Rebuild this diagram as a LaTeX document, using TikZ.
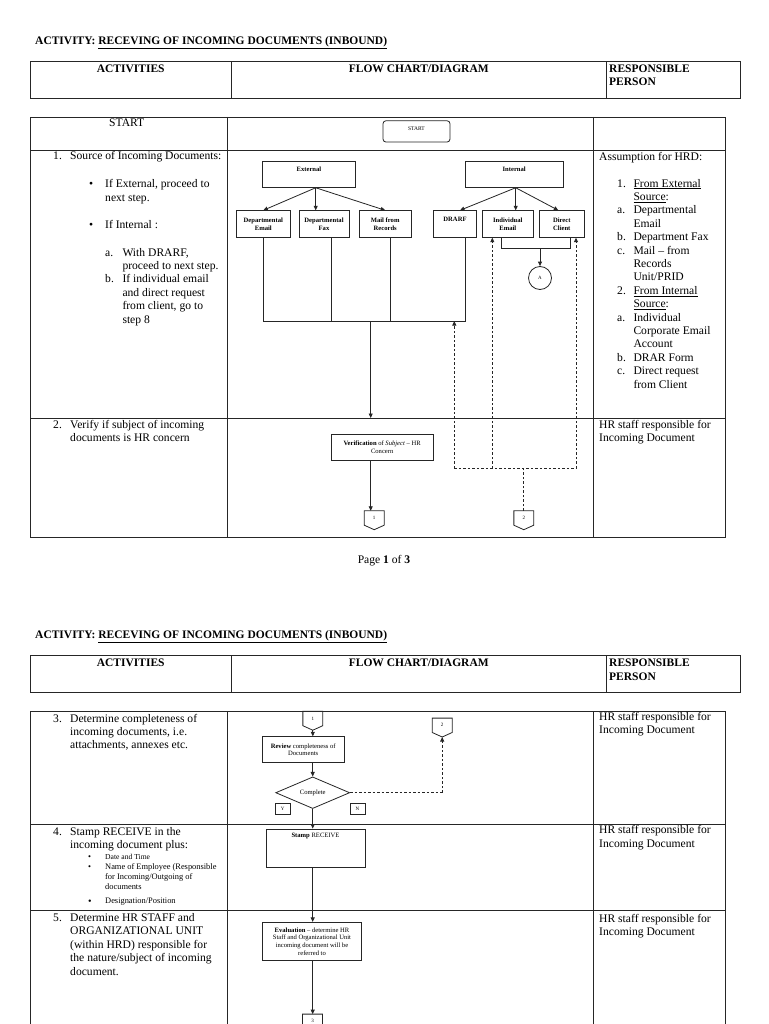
\documentclass[tikz,border=0pt]{standalone}
\usepackage{fontspec}
\setmainfont{Liberation Serif}
\usetikzlibrary{arrows.meta,shapes.geometric,calc}
\newcommand\myul[1]{\underline{#1}}
\newcommand\txtlines[6]{\foreach \t [count=\i from 0] in {#6}{\node[#1] (#5\i) at (#2,{#3+#4*\i}) {\t};}}
\newcommand\offpage[4]{%
  \node[opage] (#1) at (#2,#3+7) {#4};
  \coordinate (#1p) at ($(#1.south)+(0,4.5)$);
  \draw[boxline] (#1.north west) -- (#1.north east) -- (#1.south east) -- (#1p) -- (#1.south west) -- cycle;}
\begin{document}
\begin{tikzpicture}[x=1pt,y=-1pt,
  tab/.style={line width=0.9pt, draw=black!85},
  boxline/.style={line width=0.8pt, draw=black!85},
  body/.style={font=\fontsize{11.6}{13.4}\selectfont, inner sep=0pt, anchor=base west},
  hdr/.style={font=\bfseries\fontsize{11.5}{13}\selectfont, inner sep=0pt, anchor=base},
  smalltxt/.style={font=\fontsize{8.4}{10}\selectfont, inner sep=0pt, anchor=base west},
  fbox/.style={draw=black!85, line width=0.8pt, inner sep=0pt, align=center, font=\fontsize{6.6}{7.7}\selectfont},
  bbox/.style={fbox, font=\bfseries\fontsize{6.6}{8.3}\selectfont},
  lift/.style={text height=5pt, text depth=#1},
  flow/.style={draw=black!85, line width=0.8pt, -{Triangle[length=4.5pt,width=4pt]}},
  dflow/.style={flow, dash pattern=on 2.5pt off 2pt},
  link/.style={draw=black!85, line width=0.8pt},
  dlink/.style={link, dash pattern=on 2.5pt off 2pt},
  opage/.style={minimum width=19.5pt, minimum height=14pt, inner sep=0pt, font=\fontsize{5}{6}\selectfont},
]
\useasboundingbox (0,0) rectangle (768,1024);
\fill[white] (0,0) rectangle (768,1024);
\clip (0,0) rectangle (768,1024);

% ---------------- PAGE 1 ----------------
\node[anchor=base west, inner sep=0pt, font=\bfseries\fontsize{11.5}{13}\selectfont] (t1) at (35,44.8) {ACTIVITY: \myul{RECEVING OF INCOMING DOCUMENTS (INBOUND)}};
\draw[tab] (30,61.5) rectangle (740,98.5);
\draw[tab] (231.5,61.5) -- (231.5,98.5) (606,61.5) -- (606,98.5);
\node[hdr] (h1a) at (130.75,72.8) {ACTIVITIES};
\node[hdr] (h1b) at (418.75,72.8) {FLOW CHART/DIAGRAM};
\node[hdr, anchor=base west] (h1c) at (609,72.8) {RESPONSIBLE};
\node[hdr, anchor=base west] (h1d) at (609,86) {PERSON};

\draw[tab] (30,117) rectangle (725,537);
\draw[tab] (30,150.7) -- (725,150.7) (30,418) -- (725,418);
\draw[tab] (227.3,117) -- (227.3,537) (593,117) -- (593,537);

% left column
\node[body] (sL) at (109,126.5) {START};
\node[body] (n1) at (53,159.5) {1.};
\node[body] (n1t) at (70,159.5) {Source of Incoming Documents:};
\node[body] (bu1) at (89,187.8) {\textbullet};
\txtlines{body}{105}{187.8}{13.3}{ex}{{If External, proceed to},{next step.}}
\node[body] (bu2) at (89,228.1) {\textbullet};
\node[body] (in1) at (105,228.1) {If Internal :};
\node[body] (la) at (105,256.1) {a.};
\txtlines{body}{122.3}{256.1}{13.4}{wa}{{With DRARF,},{proceed to next step.}}
\node[body] (lb) at (105,282.9) {b.};
\txtlines{body}{122.3}{282.9}{13.4}{wb}{{If individual email},{and direct request},{from client, go to},{step 8}}
\node[body] (n2) at (53,428.1) {2.};
\txtlines{body}{70}{428.1}{13.4}{vr}{{Verify if subject of incoming},{documents is HR concern}}

% right column
\node[body] (as) at (599,160.8) {Assumption for HRD:};
\node[body] (r1) at (617,187.1) {1.};
\txtlines{body}{633.3}{187.1}{13.4}{re}{{\myul{From External}},{\myul{Source}:}}
\node[body] (ra1) at (617,213.9) {a.};
\txtlines{body}{633.3}{213.9}{13.4}{rde}{{Departmental},{Email}}
\node[body] (rb1) at (617,240.7) {b.};
\node[body] (rdf) at (633.3,240.7) {Department Fax};
\node[body] (rc1) at (617,254.1) {c.};
\txtlines{body}{633.3}{254.1}{13.4}{rmr}{{Mail – from},{Records},{Unit/PRID}}
\node[body] (r2) at (617,294.3) {2.};
\txtlines{body}{633.3}{294.3}{13.4}{ri}{{\myul{From Internal}},{\myul{Source}:}}
\node[body] (ra2) at (617,321.1) {a.};
\txtlines{body}{633.3}{321.1}{13.4}{rie}{{Individual},{Corporate Email},{Account}}
\node[body] (rb2) at (617,361.3) {b.};
\node[body] (rdr) at (633.3,361.3) {DRAR Form};
\node[body] (rc2) at (617,374.7) {c.};
\txtlines{body}{633.3}{374.7}{13.4}{rdc}{{Direct request},{from Client}}
\txtlines{body}{599}{428.1}{13.4}{hr1}{{HR staff responsible for},{Incoming Document}}

% flow chart page 1
\node[fbox, rounded corners=3pt, minimum width=67pt, minimum height=21.3pt, lift=6pt, font=\fontsize{5.5}{6.5}\selectfont] (start) at (416.5,131.4) {START};
\node[bbox, lift=10.4pt, minimum width=93.4pt, minimum height=26.3pt] (ext) at (309,174.2) {External};
\node[bbox, lift=10.4pt, minimum width=98.3pt, minimum height=26.3pt] (int) at (514.2,174.2) {Internal};
\node[bbox, minimum width=53.3pt, minimum height=26.6pt] (de) at (263.3,224) {Departmental\\Email};
\node[bbox, minimum width=50pt, minimum height=26.6pt] (df) at (324,224) {Departmental\\Fax};
\node[bbox, minimum width=51.7pt, minimum height=26.6pt] (mr) at (385.2,224) {Mail from\\Records};
\node[bbox, lift=10.4pt, minimum width=43.4pt, minimum height=26.6pt] (dr) at (455,224) {DRARF};
\node[bbox, minimum width=51pt, minimum height=26.6pt] (ie) at (507.8,224) {Individual\\Email};
\node[bbox, minimum width=45pt, minimum height=26.6pt] (dc) at (561.8,224) {Direct\\Client};

\coordinate (ef) at ($(ext.south)+(6.7,0)$);
\draw[flow] (ef) -- (de.north);
\draw[flow] (ef) -- (df.north -| ef);
\draw[flow] (ef) -- (mr.north);
\coordinate (ifk) at ($(int.south)+(1.5,0)$);
\draw[flow] (ifk) -- ($(dr.north)+(5,0)$);
\draw[flow] (ifk) -- (ie.north -| ifk);
\draw[flow] (ifk) -- ($(dc.north)+(-3.5,0)$);

\coordinate (bus) at (370.7,321);
\coordinate (dfd) at ($(df.south)+(7,0)$);
\coordinate (mrd) at ($(mr.south)+(4.8,0)$);
\coordinate (drd) at ($(dr.south)+(10,0)$);
\draw[link] (de.south) -- (de.south |- bus) -- (drd |- bus) -- (drd);
\draw[link] (dfd) -- (dfd |- bus);
\draw[link] (mrd) -- (mrd |- bus);
\coordinate (row2) at (370.7,418);
\draw[flow] (bus) -- (row2);

\coordinate (ie2) at ($(ie.south)+(-6.1,0)$);
\coordinate (dc2) at ($(dc.south)+(8.2,0)$);
\coordinate (aj) at (540,248.3);
\draw[link] (ie2) -- (ie2 |- aj) -- (dc2 |- aj) -- (dc2);
\node[circle, draw=black!85, line width=0.8pt, minimum size=23pt, inner sep=0pt, font=\fontsize{5}{6}\selectfont] (A) at (540,278) {A};
\draw[flow] (aj) -- (A.north);

\node[fbox, minimum width=102.3pt, minimum height=26.4pt] (ver) at (382.2,447.5) {\textbf{Verification} of \textit{Subject} – HR\\Concern};
\offpage{c1}{374.2}{511}{1}
\offpage{c2}{523.8}{511}{2}
\draw[flow] (ver.south -| bus) -- (c1.north -| bus);

\coordinate (dl) at (454.3,468);
\coordinate (dm) at (492.3,468);
\coordinate (dq) at (576,468);
\draw[dlink] (c2.north) -- (c2.north |- dl);
\draw[dlink] (dl) -- (dq);
\draw[dflow] (dl) -- (dl |- bus);
\draw[dflow] (dm) -- (ie.south -| dm);
\draw[dflow] (dq) -- (dc.south -| dq);

\node[anchor=base, inner sep=0pt, font=\fontsize{11.6}{13}\selectfont] (pg) at (384,563.8) {Page \textbf{1} of \textbf{3}};

% ---------------- PAGE 2 ----------------
\node[anchor=base west, inner sep=0pt, font=\bfseries\fontsize{11.5}{13}\selectfont] (t2) at (35,638.8) {ACTIVITY: \myul{RECEVING OF INCOMING DOCUMENTS (INBOUND)}};
\draw[tab] (30,655.5) rectangle (740,692.5);
\draw[tab] (231.5,655.5) -- (231.5,692.5) (606,655.5) -- (606,692.5);
\node[hdr] (h2a) at (130.75,666.8) {ACTIVITIES};
\node[hdr] (h2b) at (418.75,666.8) {FLOW CHART/DIAGRAM};
\node[hdr, anchor=base west] (h2c) at (609,666.8) {RESPONSIBLE};
\node[hdr, anchor=base west] (h2d) at (609,680) {PERSON};

\draw[tab] (30,1030) -- (30,711) -- (725,711) -- (725,1030);
\draw[tab] (30,824) -- (725,824) (30,910.7) -- (725,910.7);
\draw[tab] (227.3,711) -- (227.3,1030) (593,711) -- (593,1030);

\node[body] (n3) at (53,722.1) {3.};
\txtlines{body}{70}{722.1}{13.4}{s3}{{Determine completeness of},{incoming documents, i.e.},{attachments, annexes etc.}}
\node[body] (n4) at (53,835.5) {4.};
\txtlines{body}{70}{835.5}{13.4}{s4}{{Stamp RECEIVE in the},{incoming document plus:}}
\node[smalltxt] (sb1) at (88,859.9) {\textbullet};
\node[smalltxt, font=\fontsize{7.6}{9}\selectfont] (st1) at (105,859.9) {Date and Time};
\node[smalltxt] (sb2) at (88,869.3) {\textbullet};
\txtlines{smalltxt}{105}{869.3}{9.9}{st2}{{Name of Employee (Responsible},{for Incoming/Outgoing of},{documents}}
\node[smalltxt, font=\fontsize{10}{10}\selectfont] (sb3) at (88,904) {\textbullet};
\node[smalltxt] (st3) at (105,903.6) {Designation/Position};
\node[body] (n5) at (53,921.5) {5.};
\txtlines{body}{70}{921.5}{13.4}{s5}{{Determine HR STAFF and},{ORGANIZATIONAL UNIT},{(within HRD) responsible for},{the nature/subject of incoming},{document.}}

\txtlines{body}{599}{720.5}{13.4}{hr3}{{HR staff responsible for},{Incoming Document}}
\txtlines{body}{599}{833.8}{13.4}{hr4}{{HR staff responsible for},{Incoming Document}}
\txtlines{body}{599}{922.1}{13.4}{hr5}{{HR staff responsible for},{Incoming Document}}

% flow chart page 2
\offpage{d1}{312.8}{711.5}{1}
\node[fbox, minimum width=81.7pt, minimum height=26pt] (rev) at (303.2,749.7) {\textbf{Review} completeness of\\Documents};
\draw[flow] (d1p) -- (rev.north -| d1p);
\node[diamond, draw=black!85, line width=0.8pt, minimum width=74pt, minimum height=31pt, inner sep=0pt, font=\fontsize{6.6}{7.7}\selectfont] (cmp) at (312.7,792.7) {Complete};
\draw[flow] (rev.south -| cmp) -- (cmp.north);
\node[fbox, minimum width=15.7pt, minimum height=11.7pt, font=\fontsize{5}{6}\selectfont] (yb) at (282.8,809) {Y};
\node[fbox, minimum width=15pt, minimum height=11.7pt, font=\fontsize{5}{6}\selectfont] (nb) at (357.5,809) {N};
\node[fbox, lift=25.8pt, minimum width=99pt, minimum height=38.7pt] (stp) at (315.5,848.3) {\textbf{Stamp} RECEIVE};
\draw[flow] (cmp.south) -- (stp.north -| cmp);
\offpage{d2}{442.2}{718.3}{2}
\coordinate (dn) at (d2p |- cmp.east);
\draw[dlink] (cmp.east) -- (dn);
\draw[dflow] (dn) -- (d2p);
\node[fbox, minimum width=99.4pt, minimum height=38.4pt] (evl) at (312,941.5) {\textbf{Evaluation} – determine HR\\Staff and Organizational Unit\\incoming document will be\\referred to};
\draw[flow] (stp.south -| cmp) -- (evl.north -| cmp);
\offpage{d3}{312.5}{1014.3}{3}
\draw[flow] (evl.south -| cmp) -- (d3.north -| cmp);
\end{tikzpicture}
\end{document}
